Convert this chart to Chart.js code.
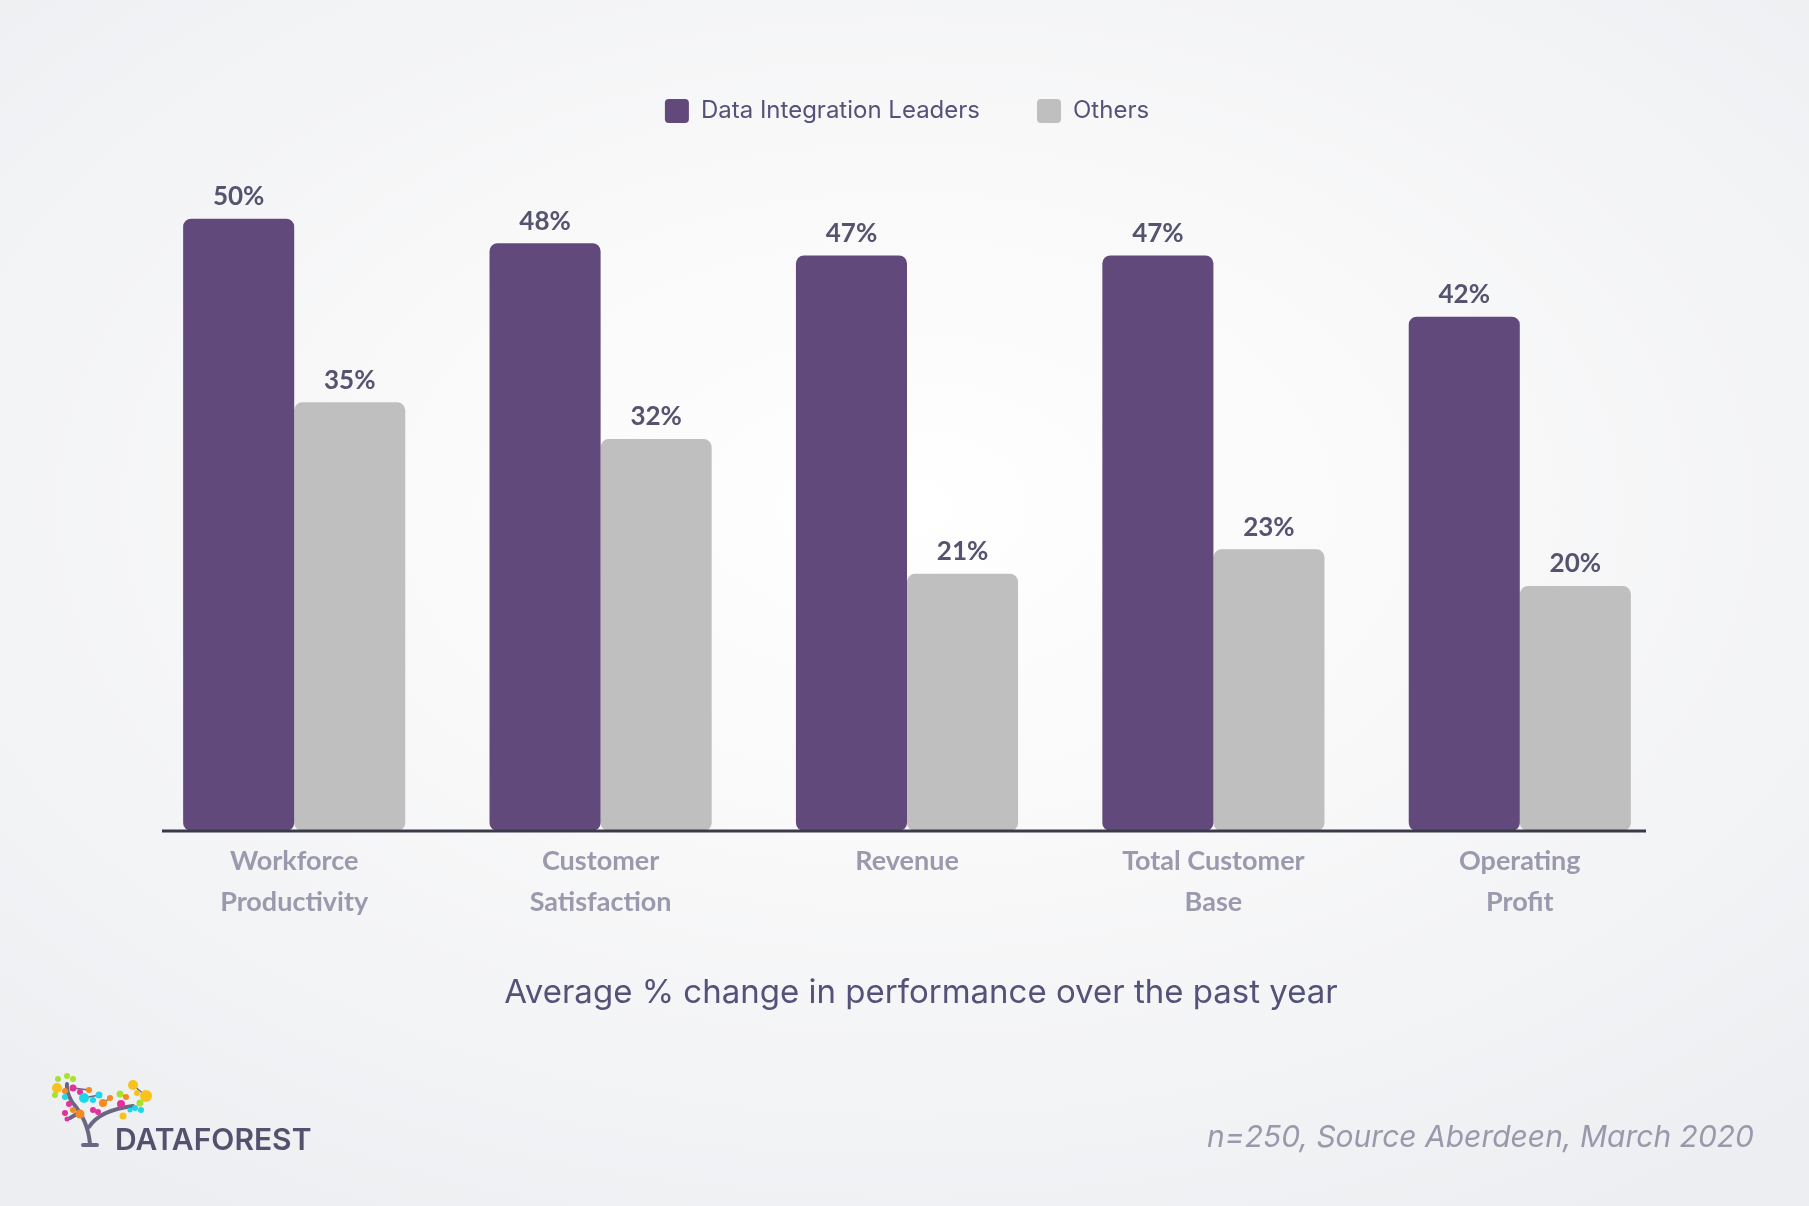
<!DOCTYPE html>
<html>
<head>
<meta charset="utf-8">
<script src="https://cdn.jsdelivr.net/npm/chart.js"></script>
<style>
  html, body { margin: 0; padding: 0; }
  body {
    width: 1809px; height: 1206px; overflow: hidden;
    background: radial-gradient(ellipse 75% 70% at 50% 42%, #ffffff 0%, #f8f8f9 45%, #eceef1 100%);
  }
  #wrap { width: 1809px; height: 1206px; position: relative; }
</style>
</head>
<body>
<div id="wrap"><canvas id="myChart"></canvas></div>
<script>
// data
const categories = [['Workforce', 'Productivity'], ['Customer', 'Satisfaction'], ['Revenue'], ['Total Customer', 'Base'], ['Operating', 'Profit']];
const leaders = [50, 48, 47, 47, 42];
const others = [35, 32, 21, 23, 20];
const seriesNames = ['Data Integration Leaders', 'Others'];
const titleText = 'Average % change in performance over the past year';
const sourceText = 'n=250, Source Aberdeen, March 2020';

const purple = '#614a7b';
const grey = '#bfbfbf';

// value labels above the bars + dark baseline
const barLabels = {
  id: 'barLabels',
  afterDatasetsDraw(chart) {
    const ctx = chart.ctx;
    ctx.save();
    ctx.font = 'bold 26px Lato';
    ctx.fillStyle = '#55536f';
    ctx.textAlign = 'center';
    ctx.textBaseline = 'middle';
    chart.data.datasets.forEach((ds, i) => {
      chart.getDatasetMeta(i).data.forEach((bar, j) => {
        ctx.fillText(ds.data[j] + '%', bar.x, bar.y - 22);
      });
    });
    // baseline
    const area = chart.chartArea;
    const y = chart.scales.y.getPixelForValue(0);
    ctx.strokeStyle = '#3b3a4a';
    ctx.lineWidth = 3;
    ctx.beginPath();
    ctx.moveTo(area.left + 21, y);
    ctx.lineTo(area.right - 27, y);
    ctx.stroke();
    ctx.restore();
  }
};

// caption, footnote and logo
const footer = {
  id: 'footer',
  afterDraw(chart) {
    const ctx = chart.ctx;
    ctx.save();
    ctx.font = '33px Inter';
    ctx.fillStyle = '#55527a';
    ctx.textAlign = 'center';
    ctx.textBaseline = 'middle';
    ctx.fillText(titleText, 921, 993);

    ctx.font = 'italic 30px Inter';
    ctx.fillStyle = '#9a98ab';
    ctx.textAlign = 'right';
    ctx.fillText(sourceText, 1754, 1138);

    // tree
    ctx.strokeStyle = '#6b6682';
    ctx.lineCap = 'round';
    ctx.lineWidth = 4;
    ctx.beginPath();
    ctx.moveTo(90, 1144);
    ctx.quadraticCurveTo(88, 1120, 72, 1102);
    ctx.quadraticCurveTo(66, 1092, 67, 1084);
    ctx.moveTo(89, 1127);
    ctx.quadraticCurveTo(100, 1110, 133, 1106);
    ctx.moveTo(80, 1112);
    ctx.lineTo(70, 1118);
    ctx.moveTo(83, 1145);
    ctx.lineTo(97, 1145);
    ctx.stroke();
    ctx.lineWidth = 1.5;
    ctx.beginPath();
    ctx.moveTo(73, 1088); ctx.lineTo(89, 1090);
    ctx.moveTo(84, 1098); ctx.lineTo(99, 1095);
    ctx.moveTo(103, 1103); ctx.lineTo(110, 1098);
    ctx.moveTo(120, 1094); ctx.lineTo(126, 1097);
    ctx.moveTo(133, 1085); ctx.lineTo(146, 1096);
    ctx.stroke();
    const dots = [
      [58, 1079, 3, '#a6e22e'], [67, 1076, 3, '#a6e22e'], [73, 1079, 3, '#a6e22e'],
      [57, 1088, 5, '#f7c21c'], [65, 1091, 3, '#f58a1f'], [73, 1088, 3.5, '#e0339a'],
      [80, 1092, 3, '#e0339a'], [89, 1090, 3, '#f58a1f'], [55, 1095, 3, '#a6e22e'],
      [65, 1097, 3, '#1ed6e6'], [84, 1098, 5, '#1ed6e6'], [93, 1100, 3, '#1ed6e6'],
      [99, 1095, 3.5, '#1ed6e6'], [69, 1104, 3, '#e0339a'], [103, 1103, 4, '#f58a1f'],
      [110, 1098, 3, '#f58a1f'], [121, 1104, 4, '#e0339a'], [120, 1094, 3.5, '#a6e22e'],
      [126, 1097, 3, '#f58a1f'], [133, 1085, 5, '#f7c21c'], [137, 1093, 3, '#f7c21c'],
      [146, 1096, 6, '#f7c21c'], [140, 1103, 3.5, '#a6e22e'], [135, 1108, 3, '#1ed6e6'],
      [141, 1110, 3, '#1ed6e6'], [65, 1113, 3, '#e0339a'], [67, 1119, 2.5, '#e0339a'],
      [80, 1114, 4.5, '#f58a1f'], [73, 1110, 3, '#f58a1f'], [93, 1110, 3, '#e0339a'],
      [98, 1112, 3, '#e0339a'], [123, 1116, 3.5, '#f7c21c'], [130, 1110, 2.5, '#1ed6e6']
    ];
    dots.forEach(d => {
      ctx.fillStyle = d[3];
      ctx.beginPath();
      ctx.arc(d[0], d[1], d[2], 0, Math.PI * 2);
      ctx.fill();
    });
    ctx.font = '600 30px Inter';
    ctx.fillStyle = '#54506e';
    ctx.textAlign = 'left';
    ctx.textBaseline = 'alphabetic';
    ctx.fillText('DATAFOREST', 115, 1150);
    ctx.restore();
  }
};

const ctx = document.getElementById('myChart');

new Chart(ctx, {
  type: 'bar',
  data: {
    labels: categories,
    datasets: [{
      label: seriesNames[0],
      data: leaders,
      backgroundColor: purple,
      borderWidth: 0,
      borderRadius: 8,
      borderSkipped: false,
      barPercentage: 1.0,
      categoryPercentage: 0.725
    }, {
      label: seriesNames[1],
      data: others,
      backgroundColor: grey,
      borderWidth: 0,
      borderRadius: 8,
      borderSkipped: false,
      barPercentage: 1.0,
      categoryPercentage: 0.725
    }]
  },
  options: {
    responsive: true,
    maintainAspectRatio: false,
    devicePixelRatio: 1,
    animation: false,
    layout: {
      padding: { left: 141, right: 136, top: 42, bottom: 273 }
    },
    plugins: {
      legend: {
        position: 'top',
        labels: {
          boxWidth: 24,
          boxHeight: 24,
          useBorderRadius: true,
          borderRadius: 4,
          padding: 57,
          color: '#55527a',
          font: { family: 'Inter', size: 24 }
        }
      },
      tooltip: { enabled: false }
    },
    scales: {
      x: {
        grid: { display: false, drawTicks: false },
        border: { display: false },
        ticks: {
          padding: 10,
          color: '#9b99ad',
          font: { family: 'Lato', size: 27, weight: 'bold', lineHeight: 1.52 }
        }
      },
      y: {
        display: false,
        min: 0,
        max: 57
      }
    }
  },
  plugins: [barLabels, footer]
});
</script>
</body>
</html>
